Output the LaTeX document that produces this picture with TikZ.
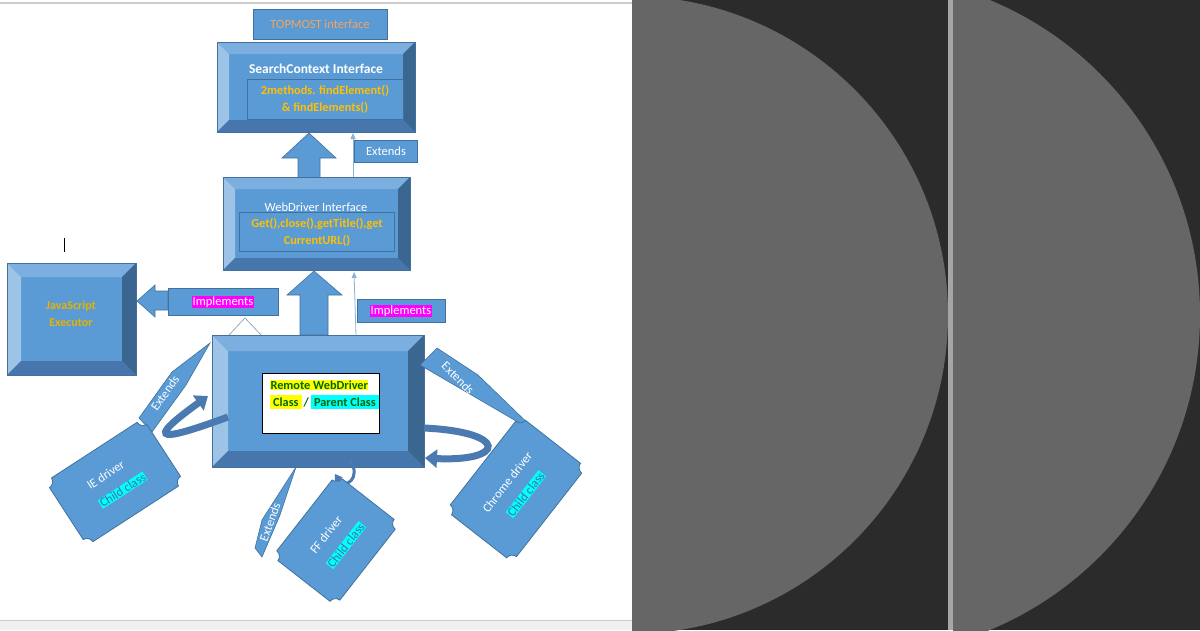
\documentclass[tikz,border=0pt]{standalone}
\usepackage{fontspec}
\setmainfont{Carlito}
\usetikzlibrary{arrows.meta}
\definecolor{bmid}{HTML}{5B9BD5}
\definecolor{btop}{HTML}{7DAEE0}
\definecolor{bleft}{HTML}{9DC3E6}
\definecolor{bright}{HTML}{3A6690}
\definecolor{bbot}{HTML}{4676AB}
\definecolor{bedge}{HTML}{41719C}
\definecolor{ylw}{HTML}{FFC000}
\definecolor{org}{HTML}{F4A460}
\definecolor{darkp}{HTML}{2B2B2B}
\definecolor{greyc}{HTML}{666666}
\definecolor{mag}{HTML}{FF00FF}
\definecolor{cyn}{HTML}{00FFFF}
\definecolor{yhl}{HTML}{FFFF00}
\definecolor{curv}{HTML}{4A7AB0}
\newcommand\bev[5]{%
 \fill[bmid] (#1,#2) rectangle (#3,#4);
 \fill[btop] (#1,#2)--(#3,#2)--({#3-#5},{#2+#5})--({#1+#5},{#2+#5})--cycle;
 \fill[bleft] (#1,#2)--({#1+#5},{#2+#5})--({#1+#5},{#4-#5})--(#1,#4)--cycle;
 \fill[bright] (#3,#2)--({#3-#5},{#2+#5})--({#3-#5},{#4-#5})--(#3,#4)--cycle;
 \fill[bbot] (#1,#4)--({#1+#5},{#4-#5})--({#3-#5},{#4-#5})--(#3,#4)--cycle;
 \draw[bedge,line width=0.8pt] (#1,#2) rectangle (#3,#4);}
\newcommand\ticket[2]{% w h (half), local y up
 \filldraw[fill=bmid,draw=bedge,line width=0.8pt]
 ({-#1+7},-#2)--({#1-7},-#2) arc[start angle=180,end angle=90,radius=7]
 --(#1,{#2-7}) arc[start angle=270,end angle=180,radius=7]
 --({-#1+7},#2) arc[start angle=0,end angle=-90,radius=7]
 --(-#1,{-#2+7}) arc[start angle=90,end angle=0,radius=7]--cycle;}
\tikzset{lbl/.style={fill=bmid,draw=bedge,line width=0.8pt,text=white,font=\fontsize{12.5}{14}\selectfont},
 wtxt/.style={text=white,font=\fontsize{12.5}{14}\selectfont,align=center},
 ytxt/.style={text=ylw,font=\bfseries\fontsize{12.3}{17}\selectfont,align=center},
 wedge/.style={fill=bmid,draw=bedge,line width=0.6pt},
 thinarr/.style={draw=bleft!80!bedge,line width=0.8pt,-{Triangle[width=5pt,length=6pt]}},
 bigarr/.style={fill=bmid,draw=bedge,line width=0.6pt},
 curlarr/.style={draw=curv,line width=7pt,-{Triangle[width=18pt,length=12pt]}},
 chl/.style={font=\fontsize{12.5}{14}\selectfont,text=bedge,transform shape,inner sep=1pt}}
\begin{document}
\begin{tikzpicture}[x=1pt,y=-1pt]
\useasboundingbox (0,0) rectangle (1200,630);
\fill[white] (0,0) rectangle (632,630);
\draw[gray!40,line width=1.5pt] (0,3)--(632,3);
\fill[gray!12] (0,620) rectangle (632,630);
\draw[gray!40] (0,620)--(632,620);
% right panels
\fill[darkp] (632,0) rectangle (1200,630);
\begin{scope}
\clip (632,0) rectangle (948,630);
\fill[greyc] (629,315) circle[radius=319];
\end{scope}
\fill[gray!70] (948,0) rectangle (953,630);
\begin{scope}
\clip (953,0) rectangle (1200,630);
\fill[greyc] (859,315) circle[radius=341];
\end{scope}
% top label
\node[lbl,minimum width=134pt,minimum height=30pt,text=org] (top) at (320,24) {TOPMOST interface};
% SearchContext
\bev{217}{42}{415}{132}{12}
\node[wtxt,font=\bfseries\fontsize{13.5}{15}\selectfont] (sct) at (316,69) {SearchContext Interface};
\node[draw=bedge,minimum width=156pt,minimum height=40pt,ytxt] (scm) at (325,99) {2methods. findElement()\\\& findElements()};
% arrow WD->SC
\path[bigarr] (298,185)--(298,158)--(282,158)--(309,133)--(336,158)--(320,158)--(320,185)--cycle;
\coordinate (a1s) at (353,185); \coordinate (a1e) at (353,133);
\draw[thinarr] (a1s)--(a1e);
\node[lbl,minimum width=63pt,minimum height=22pt] (ext1) at (386,151) {Extends};
% WebDriver
\bev{223}{177}{410}{270}{12}
\node[wtxt] (wdt) at (316,207) {WebDriver Interface};
\node[draw=bedge,minimum width=155pt,minimum height=39pt,ytxt] (wdm) at (317,232) {Get(),close(),getTitle(),get\\CurrentURL()};
% arrow RW->WD
\path[bigarr] (300,335)--(300,295)--(287,295)--(314,271)--(342,295)--(328,295)--(328,335)--cycle;
\coordinate (a2s) at (356,335); \coordinate (a2e) at (354,272);
\draw[thinarr] (a2s)--(a2e);
\node[lbl,minimum width=88pt,minimum height=23pt] (imp2) at (401,311) {\fboxsep=0.5pt\colorbox{mag}{Implements}};
% JS executor
\bev{7}{263}{136}{375}{14}
\node[ytxt,text=ylw!80!olive,font=\bfseries\fontsize{12}{17}\selectfont] (js) at (71,314) {JavaScript\\Executor};
\path[bigarr] (168,291)--(168,310)--(155,310)--(155,317)--(137,301)--(155,285)--(155,291)--cycle;
\node[lbl,minimum width=110pt,minimum height=27pt] (imp1) at (223,302) {\fboxsep=0.5pt\colorbox{mag}{Implements}};
\draw[bedge!70,line width=0.6pt] (228,336)--(245,318)--(262,336);
% Remote
\bev{212}{335}{424}{467}{16}
\node[draw=black,fill=white,line width=1pt,minimum width=117pt,minimum height=60pt,anchor=north west] (rw) at (262,373) {};
\node[anchor=north west,text=black!60!green,font=\bfseries\fontsize{12.3}{17}\selectfont,align=left,inner sep=0pt] (rwt) at (270,380) {\fboxsep=0.3pt\colorbox{yhl}{Remote WebDriver}\\\colorbox{yhl}{Class}\,/\,\colorbox{cyn}{Parent Class}};
% Extends wedges
\path[wedge] (210,343)--(172,372)--(139,418)--(152,432)--(186,385)--cycle;
\node[wtxt,rotate=55] (ex2) at (165,393) {Extends};
\path[wedge] (420,365)--(437,348)--(478,375)--(540,435)--cycle;
\node[wtxt,rotate=-45] (ex3) at (458,378) {Extends};
\path[wedge] (296,467)--(262,520)--(255,548)--(262,557)--(280,515)--cycle;
\node[wtxt,rotate=70] (ex4) at (270,522) {Extends};
% curved arrows
\draw[curlarr] (228,417) .. controls (165,440) and (140,445) .. (208,396);
\draw[curlarr] (424,428) .. controls (510,432) and (505,462) .. (425,458);
\draw[draw=curv,line width=3pt,-{Triangle[width=9pt,length=7pt]}] (350,460) .. controls (362,478) and (345,490) .. (335,474);
% tickets
\begin{scope}[shift={(115,482)},rotate=33,y=1pt]
\ticket{58}{38}
\node[wtxt,transform shape,inner sep=1pt] (ie) at (-4,11) {IE driver};
\node[chl] (iec) at (2,-11) {\fboxsep=0.5pt\colorbox{cyn}{Child\ class}};
\end{scope}
\begin{scope}[shift={(336,540)},rotate=52,y=1pt]
\ticket{52}{40}
\node[wtxt,transform shape,inner sep=1pt] (ff) at (-2,11) {FF driver};
\node[chl] (ffc) at (2,-11) {\fboxsep=0.5pt\colorbox{cyn}{Child\ class}};
\end{scope}
\begin{scope}[shift={(516,489)},rotate=52,y=1pt]
\ticket{60}{42}
\node[wtxt,transform shape,inner sep=1pt] (ch) at (0,11) {Chrome driver};
\node[chl] (chc) at (2,-11) {\fboxsep=0.5pt\colorbox{cyn}{Child\ class}};
\end{scope}
\draw[black,line width=0.8pt] (64,238)--(64,252);
\end{tikzpicture}
\end{document}
